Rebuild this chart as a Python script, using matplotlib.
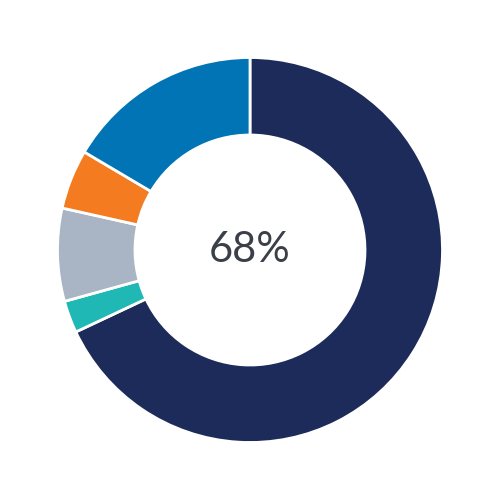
import matplotlib
matplotlib.use("Agg")
import matplotlib.pyplot as plt

labels = ["Navy", "Teal", "Gray", "Orange", "Blue"]
values = [68, 2.7, 7.8, 5.0, 16.5]
colors = ["#1c2b59", "#20b8b4", "#a9b5c4", "#f47b20", "#0074b4"]
center_text = "68%"

fig = plt.figure(figsize=(5, 5), dpi=100)
ax = fig.add_axes([0, 0, 1, 1])
ax.pie(values, colors=colors, startangle=90, counterclock=False, radius=0.77,
       wedgeprops=dict(width=0.31, edgecolor="white", linewidth=2))
ax.text(0, 0, center_text, ha="center", va="center", fontsize=30,
        color="#3b3f48", family=["Lato", "DejaVu Sans"])
ax.set_xlim(-1, 1)
ax.set_ylim(-1, 1)
ax.set_aspect("equal")
ax.axis("off")
fig.savefig("out.png", dpi=100, facecolor="white")
